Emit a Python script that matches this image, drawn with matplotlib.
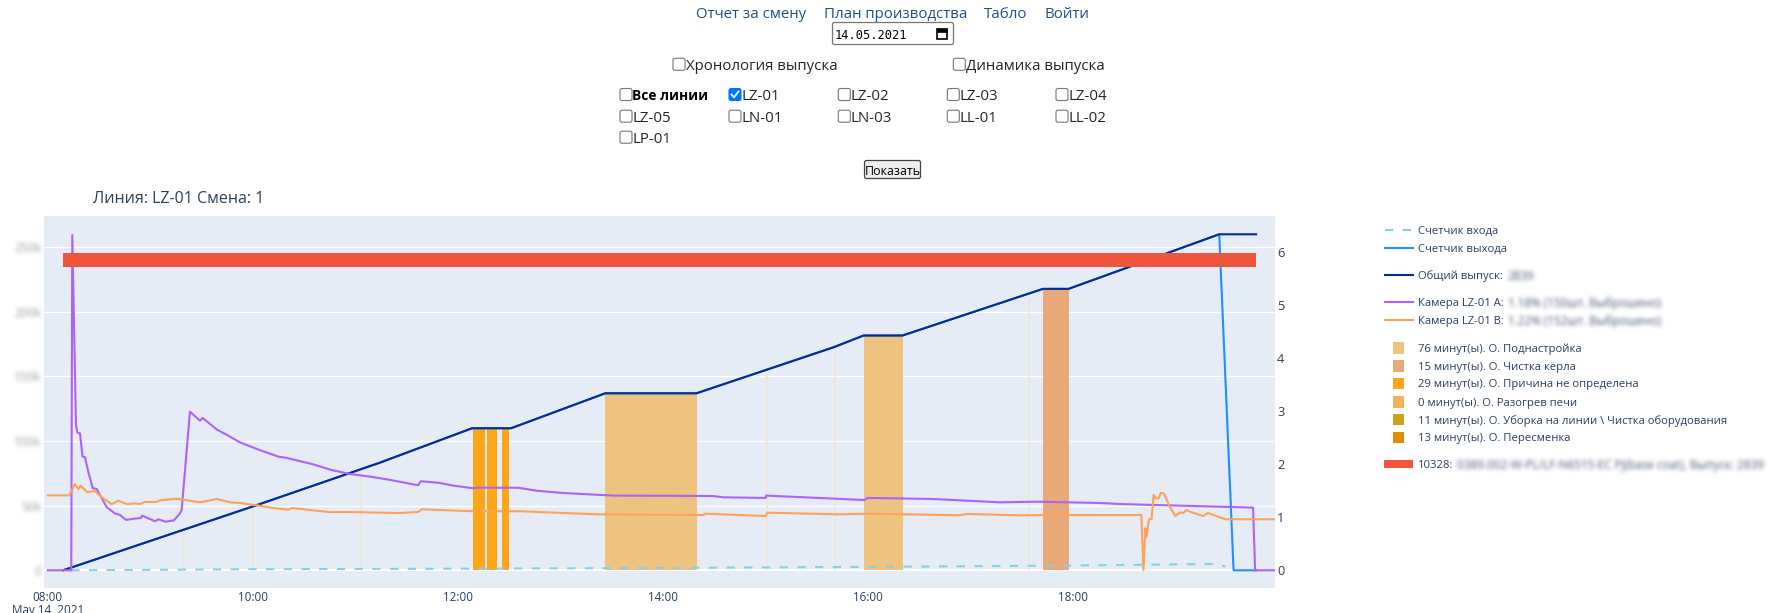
import numpy as np
import matplotlib
matplotlib.use('Agg')
import matplotlib.pyplot as plt
from matplotlib.patches import Rectangle, FancyBboxPatch
from matplotlib.colors import to_rgb

W, H = 1785, 613
FONT = 'Open Sans'
PLOTLY_TEXT = '#2a3f5f'

# Time is in decimal hours, purple/orange in thousands (left axis), the rest on the right axis
hours_a = [8.0, 8.23, 8.24, 8.276, 8.29, 8.315, 8.34, 8.364, 8.396, 8.44, 8.478, 8.576, 8.657, 8.705, 8.764,
           8.85, 8.91, 8.92, 9.047, 9.08, 9.15, 9.232, 9.29, 9.307, 9.388, 9.486, 9.512, 9.649, 9.762, 9.876,
           10.07, 10.25, 10.33, 10.59, 10.77, 10.95, 11.145, 11.31, 11.615, 11.64, 11.81, 11.96, 12.15, 12.185,
           12.59, 12.77, 13.03, 13.52, 14.49, 14.59, 15.005, 15.01, 15.97, 16.0, 16.64, 17.29, 17.65, 18.27,
           18.46, 19.76, 19.78, 19.97]
camera_a = [0, 0, 259.5, 112.5, 106.5, 106, 88, 87.5, 76.3, 63.5, 63, 48.8, 44, 42.8, 39,
            40, 40.5, 42.3, 38, 39.5, 37.6, 38.7, 44, 46.7, 122.8, 115.8, 117.9, 109, 104.2, 99,
            93, 88, 87, 82, 77.6, 74.5, 72.5, 70.4, 65.8, 68.9, 67.8, 65.5, 63.5, 63.9,
            63.9, 61.6, 59.8, 57.8, 57.5, 56.5, 56, 57.8, 54.4, 56, 55.2, 52.6, 53.1, 52.1,
            51.3, 48.5, 0, 0]

hours_b = [8.0, 8.21, 8.266, 8.3, 8.32, 8.386, 8.46, 8.527, 8.624, 8.69, 8.77, 8.85, 8.9, 8.95, 9.06, 9.095,
           9.26, 9.486, 9.649, 9.78, 9.876, 10.04, 10.2, 10.35, 10.38, 10.74, 10.95, 11.42, 11.615, 11.65,
           12.15, 12.61, 13.36, 14.4, 14.41, 15.005, 15.02, 15.7, 16.0, 16.9, 16.97, 17.45, 18.27, 18.67,
           18.69, 18.71, 18.72, 18.745, 18.77, 18.79, 18.81, 18.84, 18.86, 18.89, 18.94, 19.0, 19.05, 19.08,
           19.11, 19.16, 19.27, 19.32, 19.49, 19.97]
camera_b = [58, 58, 66.8, 62.7, 65.5, 60.4, 61.4, 56.5, 51.3, 53.9, 51.3, 51.8, 51.3, 52.9, 52.9, 54.2,
            55.4, 52.6, 55.2, 52.6, 52.1, 50.3, 48.2, 46.9, 48.2, 45.1, 45.1, 44.3, 45.1, 47.2,
            45.7, 45.7, 43.3, 42.8, 43.8, 42, 44.6, 43.3, 43.8, 42.6, 43.6, 42.6, 42.8, 42.8,
            0.2, 32.5, 26, 39.7, 39.7, 58.3, 55.7, 55.7, 60, 59.5, 50.5, 42, 44.9, 44.3,
            46.7, 44.9, 42, 44.3, 39.5, 39.5]

hours_total = [8.15, 10.04, 11.24, 12.14, 12.52, 13.44, 14.33, 15.67, 15.96, 16.34, 17.71, 17.96, 19.43, 19.79]
total_out = [0, 1.23, 2.03, 2.68, 2.68, 3.34, 3.34, 4.21, 4.43, 4.43, 5.31, 5.31, 6.34, 6.34]

hours_exit = [8.15, 10.04, 11.24, 12.14, 12.52, 13.44, 14.33, 15.67, 15.96, 16.34, 17.71, 17.96, 19.43, 19.57, 19.79]
counter_exit = [0, 1.23, 2.03, 2.68, 2.68, 3.34, 3.34, 4.21, 4.43, 4.43, 5.31, 5.31, 6.34, 0, 0]

hours_in = [8.23, 10.0, 12.0, 14.0, 16.0, 18.0, 18.46, 19.4, 19.49]
counter_in = [0.0, 0.02, 0.03, 0.045, 0.065, 0.09, 0.1, 0.12, 0.07]

# downtime blocks
stop_start = [12.15, 12.29, 12.43, 13.44, 15.96, 17.71]
stop_end = [12.27, 12.385, 12.50, 14.33, 16.34, 17.96]
stop_top = [2.68, 2.68, 2.68, 3.34, 4.43, 5.31]
stop_color = ['#FFA616', '#FFA616', '#FFA616', '#EEC27F', '#EEC27F', '#E9A878']

short_start = [9.307, 9.99, 11.05, 15.005, 15.67, 17.56]
short_top = [0.76, 1.2, 1.9, 3.85, 4.2, 5.2]
short_width = 0.02

batch_start, batch_end = 8.15, 19.79
batch_low, batch_high = 5.72, 5.98

left_ticks = [0, 50, 100, 150, 200, 250]
left_labels = ['0', '50k', '100k', '150k', '200k', '250k']
right_ticks = [0, 1, 2, 3, 4, 5, 6]
x_ticks = [8, 10, 12, 14, 16, 18]
x_labels = ['08:00\nMay 14, 2021', '10:00', '12:00', '14:00', '16:00', '18:00']

line_names = ['Счетчик входа', 'Счетчик выхода', 'Общий выпуск:', 'Камера LZ-01 A:', 'Камера LZ-01 B:']
line_hidden = ['', '', '2839', '1.18% (150шт. Выброшено)', '1.22% (152шт. Выброшено)']
line_colors = ['#87CEEB', '#1E90FF', '#0A2A8F', '#AB63FA', '#FFA15A']
stop_names = ['76 минут(ы). О. Поднастройка', '15 минут(ы). О. Чистка кёрла', '29 минут(ы). О. Причина не определена',
              '0 минут(ы). О. Разогрев печи', '11 минут(ы). О. Уборка на линии \\ Чистка оборудования',
              '13 минут(ы). О. Пересменка']
stop_legend_colors = ['#EEC27F', '#E9A878', '#FFA616', '#F6B25A', '#CFA21E', '#E68A00']
batch_name = '10328:'
batch_hidden = '0389.002-W-PL/LF-N6515-EC PJ(base coat), Выпуск: 2839'

lines_row1 = ['Все линии', 'LZ-01', 'LZ-02', 'LZ-03', 'LZ-04']
lines_row2 = ['LZ-05', 'LN-01', 'LN-03', 'LL-01', 'LL-02']
lines_row3 = ['LP-01']


# the reference has some text smeared out, keep it as text and blur the alpha only
def make_blur(color, sigma=2.0, gain=1.25):
    rgb = to_rgb(color)

    def blur(img, dpi):
        pad = int(sigma * 3)
        xs = np.arange(-pad, pad + 1)
        kernel = np.exp(-xs ** 2 / (2 * sigma ** 2))
        kernel = kernel / kernel.sum()
        alpha = np.pad(img[:, :, 3], pad)
        alpha = np.apply_along_axis(lambda r: np.convolve(r, kernel, mode='same'), 0, alpha)
        alpha = np.apply_along_axis(lambda r: np.convolve(r, kernel, mode='same'), 1, alpha)
        out = np.zeros(alpha.shape + (4,))
        out[:, :, :3] = rgb
        out[:, :, 3] = np.clip(alpha * gain, 0, 1)
        return out, -pad, -pad
    return blur


fig = plt.figure(figsize=(W / 100, H / 100), dpi=100, facecolor='white')
plot_l, plot_r, plot_t, plot_b = 44, 1275, 216, 588
ax = fig.add_axes([plot_l / W, (H - plot_b) / H, (plot_r - plot_l) / W, (plot_b - plot_t) / H])
ax.set_facecolor('#E5ECF6')
ax.set_xlim(7.964, 19.974)
ax.set_ylim(-13.7, 274.2)
ax.set_yticks(left_ticks)
ax.set_yticklabels(left_labels, fontsize=8.64, family=FONT, color='#a5a8ae')
for lab in ax.get_yticklabels():
    lab.set_agg_filter(make_blur('#a5a8ae', gain=1.1))
ax.set_xticks(x_ticks)
ax.set_xticklabels(x_labels, fontsize=8.4, family=FONT, color=PLOTLY_TEXT, linespacing=1.05)
ax.tick_params(length=0, axis='both')
ax.tick_params(axis='x', pad=2)
ax.tick_params(axis='y', pad=2)
ax.grid(axis='y', color='white', lw=0.9)
ax.axhline(0, color='white', lw=1.5)
ax.set_axisbelow(True)
for s in ax.spines.values():
    s.set_visible(False)

ax2 = ax.twinx()
ax2.set_ylim(-0.334, 6.685)
ax2.set_yticks(right_ticks)
ax2.set_yticklabels([str(t) for t in right_ticks], fontsize=9.2, family=FONT, color=PLOTLY_TEXT)
ax2.tick_params(length=0, pad=1.5)
for s in ax2.spines.values():
    s.set_visible(False)

for s0, s1, top, c in zip(stop_start, stop_end, stop_top, stop_color):
    ax2.bar(s0, top, width=s1 - s0, align='edge', color=c, zorder=1)
for s0, top in zip(short_start, short_top):
    ax2.bar(s0, top, width=short_width, align='edge', color='#EDE6DC', zorder=1)

ax2.plot(hours_in, counter_in, color=line_colors[0], lw=1.5, ls=(0, (4, 4.5)), zorder=2)
ax2.plot(hours_exit, counter_exit, color=line_colors[1], lw=1.5, zorder=2)
ax2.plot(hours_total, total_out, color=line_colors[2], lw=1.5, zorder=3)
ax2.plot(hours_a, camera_a, color=line_colors[3], lw=1.5, zorder=4, transform=ax.transData)
ax2.plot(hours_b, camera_b, color=line_colors[4], lw=1.5, zorder=5, transform=ax.transData)
ax2.barh(batch_low, batch_end - batch_start, height=batch_high - batch_low, left=batch_start,
         align='edge', color='#EF553B', zorder=6)
ax2.set_xlim(ax.get_xlim())

# page controls and legend are placed in pixels on a transparent overlay
ui = fig.add_axes([0, 0, 1, 1], zorder=10)
ui.set_xlim(0, W)
ui.set_ylim(H, 0)
ui.axis('off')


def label(x, y, s, size=15, color='#212529', **kw):
    kw.setdefault('family', FONT)
    return ui.text(x, y, s, fontsize=size * 0.72, color=color, va='center_baseline', ha='left', **kw)


def checkbox(x, y, checked=False):
    size = 12
    face = '#0075FF' if checked else 'white'
    edge = '#0075FF' if checked else '#767676'
    ui.add_patch(FancyBboxPatch((x + 1, y - size / 2 + 1), size - 2, size - 2, boxstyle='round,pad=1,rounding_size=2',
                                fc=face, ec=edge, lw=0.8))
    if checked:
        ui.plot([x + 2.5, x + 5, x + 9.5], [y, y + 2.8, y - 3], color='white', lw=1.3)


for x, s in zip([696, 824, 984, 1045], ['Отчет за смену', 'План производства', 'Табло', 'Войти']):
    label(x, 12.3, s, color='#1F4E8C')

ui.add_patch(FancyBboxPatch((833, 23), 120, 21, boxstyle='round,pad=0.5,rounding_size=2', fc='white', ec='#767676', lw=0.9))
label(835, 34.3, '14.05.2021', size=12, family='DejaVu Sans Mono', color='black')
ui.add_patch(Rectangle((937, 29), 10, 10, fc='white', ec='black', lw=1.2))
ui.add_patch(Rectangle((937, 29), 10, 2.5, fc='black', ec='black', lw=0.5))

checkbox(673, 64.3)
label(686.5, 65, 'Хронология выпуска')
checkbox(953.3, 64.3)
label(966, 65, 'Динамика выпуска')

col_x = [620, 729, 838.3, 947.3, 1056]
for row_y, row in zip([95, 116.7, 137.7], [lines_row1, lines_row2, lines_row3]):
    for cx, name in zip(col_x, row):
        checkbox(cx, row_y - 0.5, checked=name == 'LZ-01')
        bold = name == 'Все линии'
        label(cx + 12.5, row_y, name, size=13.8 if bold else 15, weight='bold' if bold else 'normal',
              color='black' if bold else '#212529')

ui.add_patch(FancyBboxPatch((865, 161), 55, 17, boxstyle='round,pad=0.5,rounding_size=2', fc='#EFEFEF', ec='#444444', lw=0.9))
ui.text(892.5, 169.7, 'Показать', fontsize=8.9, family=FONT, color='black', ha='center', va='center_baseline')

label(92.7, 196.7, 'Линия: LZ-01 Смена: 1', size=16, color=PLOTLY_TEXT)

LEGEND_SIZE = 11.3
line_y = [230, 248, 275, 302.3, 320]
for i, (y, name, hidden, c) in enumerate(zip(line_y, line_names, line_hidden, line_colors)):
    style = (0, (4, 4.5)) if i == 0 else '-'
    ui.plot([1385, 1412.7], [y, y], color=c, lw=1.5, ls=style)
    t = label(1418, y, name, size=LEGEND_SIZE, color=PLOTLY_TEXT)
    if hidden:
        fig.canvas.draw()
        bb = t.get_window_extent()
        h = label(bb.x1 + 4, y, hidden, size=LEGEND_SIZE + 0.3, color='#6f7a90')
        h.set_agg_filter(make_blur('#6f7a90'))

stop_y = [347.7, 365.7, 383.3, 401.7, 419.3, 437.3]
for y, name, c in zip(stop_y, stop_names, stop_legend_colors):
    ui.add_patch(Rectangle((1392.5, y - 5.7), 11.5, 11.5, fc=c, ec='none'))
    label(1418, y, name, size=LEGEND_SIZE, color=PLOTLY_TEXT)

ui.add_patch(Rectangle((1384.3, 459.8), 28.4, 8.4, fc='#EF553B', ec='none'))
t = label(1418, 464, batch_name, size=LEGEND_SIZE, color=PLOTLY_TEXT)
fig.canvas.draw()
h = label(t.get_window_extent().x1 + 4, 464, batch_hidden, size=LEGEND_SIZE + 0.3, color='#6f7a90')
h.set_agg_filter(make_blur('#6f7a90'))

fig.savefig('out.png', dpi=100)
